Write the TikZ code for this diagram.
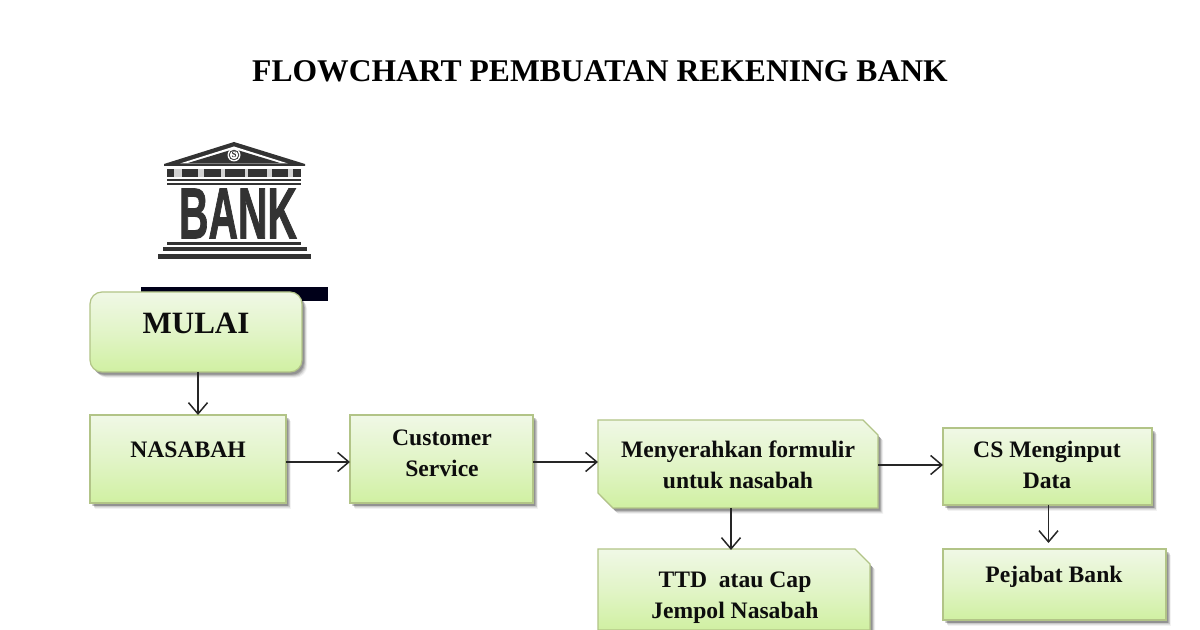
\documentclass[tikz,border=0pt]{standalone}
\usepackage{fontspec}
\setmainfont{Liberation Serif}
\newfontfamily\logofont[BoldFeatures={FakeBold=1.6}]{Liberation Sans}
\usetikzlibrary{arrows.meta,shadows}
\definecolor{boxedge}{HTML}{B2C487}
\definecolor{boxtop}{HTML}{F0F8E6}
\definecolor{boxbot}{HTML}{D0F0A2}
\definecolor{logoink}{HTML}{333333}
\tikzset{
  softshadow/.style={
    drop shadow={shadow xshift=2.6pt,shadow yshift=-2.9pt,fill=black,opacity=.05},
    drop shadow={shadow xshift=2.2pt,shadow yshift=-2.5pt,fill=black,opacity=.07},
    drop shadow={shadow xshift=1.8pt,shadow yshift=-2.1pt,fill=black,opacity=.1},
    drop shadow={shadow xshift=1.4pt,shadow yshift=-1.7pt,fill=black,opacity=.13},
    drop shadow={shadow xshift=1pt,shadow yshift=-1.3pt,fill=black,opacity=.16}},
  boxpaint/.style={draw=boxedge,line width=.6pt,top color=boxtop,bottom color=boxbot,
    middle color=boxtop!55!boxbot,softshadow},
  plainbox/.style={boxpaint,rectangle,inner sep=0pt,outer sep=0pt},
  ghostbox/.style={rectangle,inner sep=0pt,outer sep=0pt},
  boxtext/.style={font=\bfseries\fontsize{11.8}{15.5}\selectfont,align=center,text=black!95,inner sep=0pt},
  flow/.style={line width=.75pt,draw=black!85,-{Straight Barb[length=5.6pt,width=9.5pt,line width=.75pt]}},
  ink/.style={fill=logoink,draw=none}
}
\begin{document}
\begin{tikzpicture}[x=.5pt,y=-.5pt]
\useasboundingbox (0,0) rectangle (1200,630);
\fill[white] (0,0) rectangle (1200,630);
\node[font=\bfseries\fontsize{15.8}{18}\selectfont,text=black,inner sep=0pt] (title) at (600,71) {FLOWCHART PEMBUATAN REKENING BANK};

% bank logo
\fill[ink] (234,142) -- (305,164) -- (305,166) -- (164,166) -- (164,164) -- cycle;
\fill[white] (234,146.5) -- (288,163.5) -- (180,163.5) -- cycle;
\fill[ink] (234,149) -- (280,163) -- (188,163) -- cycle;
\fill[white] (234,155) circle (6.5);
\draw[logoink,line width=.4pt] (234,155) circle (4.8);
\node[font=\bfseries\fontsize{4.5}{5}\selectfont,text=logoink,inner sep=0pt] (coin) at (234,155) {S};
\fill[ink] (167,169) rectangle (301,177);
\foreach \x/\w in {174/8,198/6,221/4,245/3,267/5,288/5}{\fill[white!65!gray] (\x,169) rectangle ++(\w,8);}
\fill[ink] (167,179) rectangle (301,181);
\fill[ink] (167,183) rectangle (301,185.5);
\node[text=logoink,inner sep=0pt] (banklogo) at (238,213.5) {\scalebox{.6}[1.06]{\logofont\bfseries\fontsize{34}{34}\selectfont BANK}};
\fill[ink] (167,242) rectangle (301,245);
\fill[ink] (163,247) rectangle (307,251);
\fill[ink] (158,254) rectangle (311,259);

% dark strip behind the start box
\fill[black!90!blue] (141,287) rectangle (328,301);

% boxes
\node[plainbox,rounded corners=6pt,minimum width=106pt,minimum height=40pt] (mulai) at (196,332) {};
\node[plainbox,minimum width=98pt,minimum height=44pt] (nasabah) at (188,459) {};
\node[plainbox,minimum width=91.5pt,minimum height=44pt] (cs) at (441.5,459) {};
\node[ghostbox,minimum width=140pt,minimum height=44pt] (form) at (738,464) {};
\node[plainbox,minimum width=104.5pt,minimum height=38.5pt] (input) at (1047.5,466.5) {};
\node[ghostbox,minimum width=136pt,minimum height=40.5pt] (ttd) at (734,589.5) {};
\node[plainbox,minimum width=111.5pt,minimum height=35.5pt] (pejabat) at (1054.5,584.5) {};
\path[boxpaint] (form.north west) -- ([xshift=-7.5pt]form.north east) -- ([yshift=-7.5pt]form.north east)
  -- (form.south east) -- ([xshift=7.5pt]form.south west) -- ([yshift=7.5pt]form.south west) -- cycle;
\path[boxpaint] (ttd.north west) -- ([xshift=-7.5pt]ttd.north east) -- ([yshift=-7.5pt]ttd.north east)
  -- (ttd.south east) -- (ttd.south west) -- cycle;

% texts
\node[boxtext,font=\bfseries\fontsize{15.5}{18}\selectfont] (mulaitext) at (196,323) {MULAI};
\node[boxtext] (nasabahtext) at (188,450) {NASABAH};
\node[boxtext] (cstext) at (442,453) {Customer\\Service};
\node[boxtext] (formtext) at (738,465) {Menyerahkan formulir\\untuk nasabah};
\node[boxtext] (inputtext) at (1047,465) {CS Menginput\\Data};
\node[boxtext] (ttdtext) at (735,597.5) {TTD\ \ atau Cap\\Jempol Nasabah};
\node[boxtext] (pejabattext) at (1054,577) {Pejabat Bank};

% connectors
\draw[flow] ([xshift=1pt]mulai.south) -- ([xshift=5pt]nasabah.north);
\draw[flow] ([yshift=-1.5pt]nasabah.east) -- ([yshift=-1.5pt]cs.west);
\draw[flow] ([yshift=-1.5pt]cs.east) -- ([yshift=-1.5pt]cs.east -| form.west);
\draw[flow] ([yshift=-.5pt]form.east) -- ([yshift=-.5pt]form.east -| input.west);
\draw[flow] ([xshift=-1.5pt]form.south -| ttd.north) -- ([xshift=-1.5pt,yshift=-.5pt]ttd.north);
\draw[flow] ([xshift=.5pt]input.south) -- ([xshift=.5pt,yshift=3pt]input.south |- pejabat.north);
\end{tikzpicture}
\end{document}
